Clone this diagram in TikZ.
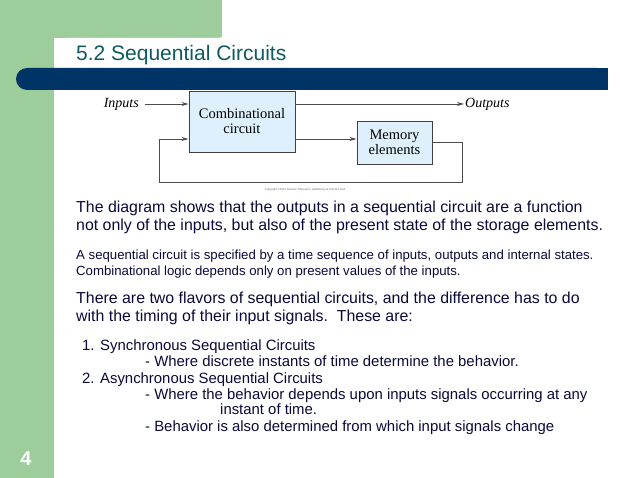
\documentclass[tikz,border=0pt]{standalone}
\usepackage{fontspec}
\setmainfont{Liberation Sans}
\newfontfamily\serifd{Liberation Serif}
\usetikzlibrary{arrows.meta}
\definecolor{grn}{HTML}{9DCD9A}
\definecolor{navy}{HTML}{003366}
\definecolor{ttl}{HTML}{0E5A5E}
\definecolor{txt}{HTML}{0A0A3A}
\definecolor{boxf}{HTML}{DDF0FB}
\begin{document}
\begin{tikzpicture}[x=1pt,y=-1pt,
  blk/.style={draw=black!75,fill=boxf,line width=0.9pt,inner sep=0,align=center,font=\serifd\fontsize{14.5}{15}\selectfont},
  lbl/.style={font=\serifd\itshape\fontsize{14}{15}\selectfont,inner sep=1pt},
  wire/.style={draw=black!70,line width=0.8pt},
  arr/.style={wire,-{Stealth[length=7pt,width=4pt]}},
  big/.style={anchor=base west,inner sep=0,text=txt,font=\fontsize{15.9}{18}\selectfont},
  small/.style={anchor=base west,inner sep=0,text=txt,font=\fontsize{13.2}{15}\selectfont},
  mid/.style={anchor=base west,inner sep=0,text=txt,font=\fontsize{14.9}{17}\selectfont}]
\useasboundingbox (0,0) rectangle (638,478);
\fill[grn] (0,0) rectangle (222,38);
\fill[grn] (0,0) rectangle (54,478);
\fill[white,rounded corners=12] (54,478) -- (54,38) -- (230,38) -- (230,0) -- (638,0) -- (638,478) -- cycle;
\fill[white] (222,0) rectangle (638,45);
\fill[navy,rounded corners=11] (16,68) rectangle (608,90);
\fill[navy] (590,68) rectangle (608,90);
\node[anchor=base west,inner sep=0,text=ttl,font=\fontsize{21}{24}\selectfont] (title) at (76,61) {5.2 Sequential Circuits};
% diagram
\node[blk,minimum width=106,minimum height=61] (comb) at (242,121.5) {Combinational\\circuit};
\node[blk,minimum width=75,minimum height=43] (mem) at (394.5,142.5) {Memory\\elements};
\node[lbl,anchor=east] (in) at (140,104) {Inputs};
\node[lbl,anchor=west] (out) at (464,104) {Outputs};
\coordinate (cin1) at (comb.west |- in);
\draw[arr] (145,104) -- (cin1);
\draw[arr] (comb.east |- out) -- (out.west);
\draw[arr] (comb.east |- 0,139) -- (mem.west |- 0,139);
\coordinate (r1) at (462,142);
\coordinate (r2) at (462,182);
\coordinate (l1) at (159,182);
\coordinate (l2) at (159,139);
\draw[wire] (mem.east |- r1) -- (r1) -- (r2) -- (l1) -- (l2);
\draw[arr] (l2) -- (comb.west |- l2);
\node[font=\fontsize{2.8}{3}\selectfont,text=black!60] (copy) at (305,190) {Copyright \textcopyright2013 Pearson Education, publishing as Prentice Hall};
% text
\node[big] (t1) at (76,213) {The diagram shows that the outputs in a sequential circuit are a function};
\node[big] (t2) at (76,231) {not only of the inputs, but also of the present state of the storage elements.};
\node[small] (t3) at (76,260) {A sequential circuit is specified by a time sequence of inputs, outputs and internal states.};
\node[small] (t4) at (76,276) {Combinational logic depends only on present values of the inputs.};
\node[big] (t5) at (76,304) {There are two flavors of sequential circuits, and the difference has to do};
\node[big] (t6) at (76,322) {with the timing of their input signals.\ \ These are:};
\node[mid] (i1) at (82,351) {1. Synchronous Sequential Circuits};
\node[mid] (i2) at (145,367) {- Where discrete instants of time determine the behavior.};
\node[mid] (i3) at (82,384) {2. Asynchronous Sequential Circuits};
\node[mid] (i4) at (145,400) {- Where the behavior depends upon inputs signals occurring at any};
\node[mid] (i5) at (220,415) {instant of time.};
\node[mid] (i6) at (145,432) {- Behavior is also determined from which input signals change};
\node[anchor=base,text=white,font=\bfseries\fontsize{20}{22}\selectfont] (pg) at (26,466) {4};
\end{tikzpicture}
\end{document}
